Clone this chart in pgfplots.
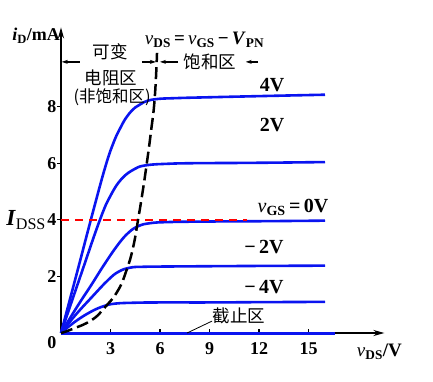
\documentclass[border=0pt]{standalone}
\usepackage{fontspec}
\setmainfont{Liberation Serif}
\newfontfamily\cjk{Noto Sans CJK SC}
\usepackage{pgfplots}
\pgfplotsset{compat=1.18}
\usetikzlibrary{arrows.meta}
\definecolor{cblue}{RGB}{10,20,240}
\newcommand{\sub}[1]{\textsubscript{\bfseries #1}}
\begin{document}
\begin{tikzpicture}
\useasboundingbox (-61pt,-48pt) rectangle (372pt,333pt);
\begin{axis}[at={(0pt,0pt)},anchor=south west,
  x=16.5pt,y=28.3pt,
  xmin=0,xmax=19.6,ymin=0,ymax=10.8,
  axis lines=left, clip=false,
  axis line style={line width=1.6pt,-{Stealth[length=11pt,width=6pt]}},
  xtick={3,6,9,12,15}, ytick={2,4,6,8},
  tick style={line width=1.2pt,black},
  major tick length=4pt,
  tick align=inside,
  ytick style={xshift=-4pt},
  /pgf/number format/assume math mode=true,
  tick label style={font=\bfseries\fontsize{18}{18}\selectfont},
  xticklabel style={yshift=-6pt},
  yticklabel style={xshift=-1pt},
  ]
% curves
\addplot[cblue,line width=2.6pt,smooth,tension=0.7] coordinates {(0,0)(1.0,2.2)(1.9,4.2)(2.7,5.9)(3.2,6.75)(3.6,7.25)(4.0,7.65)(4.5,7.97)(5.0,8.15)(5.7,8.26)(7,8.3)(9,8.33)(12,8.37)(16,8.42)};
\addplot[cblue,line width=2.6pt,smooth,tension=0.7] coordinates {(0,0)(1.2,2.05)(2.36,4.0)(3.0,4.85)(3.68,5.45)(4.48,5.8)(5.2,5.93)(6.5,5.98)(8,6.0)(11,6.01)(13,6.02)(16,6.04)};
\addplot[cblue,line width=2.6pt,smooth,tension=0.7] coordinates {(0,0)(1.0,0.95)(1.84,1.7)(2.6,2.4)(3.45,3.12)(4.1,3.55)(4.7,3.78)(5.4,3.88)(6.5,3.92)(9,3.94)(12,3.95)(16,3.97)};
\addplot[cblue,line width=2.6pt,smooth,tension=0.7] coordinates {(0,0)(0.9,0.65)(1.84,1.25)(2.85,1.87)(3.5,2.17)(4.2,2.31)(5,2.34)(6.5,2.35)(9,2.36)(12,2.37)(16,2.38)};
\addplot[cblue,line width=2.6pt,smooth,tension=0.7] coordinates {(0,0)(0.9,0.42)(1.84,0.76)(2.6,0.95)(3.3,1.04)(4.5,1.07)(6,1.08)(9,1.08)(12,1.09)(16,1.1)};
\addplot[cblue,line width=3pt] coordinates {(0,0)(16.6,0)};
% I_DSS line
\addplot[red,line width=2pt,dash pattern=on 8pt off 6pt] coordinates {(0,4.0)(11.3,4.0)};
% pinch-off boundary
\addplot[black,line width=2.5pt,dash pattern=on 12pt off 5pt,smooth,tension=0.8] coordinates {(0,0)(0.6,0.12)(1.84,0.45)(2.65,0.9)(3.45,1.5)(3.96,2.2)(4.36,3.0)(4.67,4.0)(4.95,5.0)(5.2,6.0)(5.45,7.1)(5.68,8.3)(5.82,9.9)};
% labels
\node[anchor=east,inner sep=0pt,font=\bfseries\fontsize{18}{18}\selectfont] at (axis cs:-0.05,10.5) {\textit{i}\sub{D}/mA};
\node[inner sep=0pt,font=\bfseries\fontsize{19}{19}\selectfont] at (axis cs:8.7,10.35) {\textit{\mdseries v}\sub{DS}\,=\,\textit{\mdseries v}\sub{GS}\,\textminus\,\textit{V}\sub{PN}};
\node[inner sep=0pt,font=\cjk\fontsize{17.5}{17.5}\selectfont] at (axis cs:2.97,9.93) {可变};
\node[inner sep=0pt,font=\cjk\fontsize{17.5}{17.5}\selectfont] at (axis cs:3.03,9.01) {电阻区};
\node[inner sep=0pt,font=\cjk\fontsize{16.5}{16.5}\selectfont] at (axis cs:3.1,8.34) {(非饱和区)};
\node[inner sep=0pt,font=\cjk\fontsize{17.5}{17.5}\selectfont] at (axis cs:9.03,9.58) {饱和区};
\draw[line width=1.3pt,-{Stealth[length=6pt,width=4pt]}] (axis cs:1.15,9.58) -- (axis cs:0.05,9.58);
\draw[line width=1.3pt,-{Stealth[length=6pt,width=4pt]}] (axis cs:4.9,9.58) -- (axis cs:5.75,9.58);
\draw[line width=1.3pt,-{Stealth[length=6pt,width=4pt]}] (axis cs:7.1,9.58) -- (axis cs:6.0,9.58);
\draw[line width=1.3pt,-{Stealth[length=6pt,width=4pt]}] (axis cs:11.95,9.58) -- (axis cs:11.2,9.58);
\node[inner sep=0pt,font=\bfseries\fontsize{20}{20}\selectfont] at (axis cs:12.8,8.76) {4V};
\node[inner sep=0pt,font=\bfseries\fontsize{20}{20}\selectfont] at (axis cs:12.8,7.35) {2V};
\node[inner sep=0pt,font=\bfseries\fontsize{20}{20}\selectfont] at (axis cs:14.06,4.45) {\textit{\mdseries v}\sub{GS}\,=\,0V};
\node[inner sep=0pt,font=\bfseries\fontsize{20}{20}\selectfont] at (axis cs:12.3,3.04) {\textminus\,2V};
\node[inner sep=0pt,font=\bfseries\fontsize{20}{20}\selectfont] at (axis cs:12.3,1.63) {\textminus\,4V};
\node[inner sep=0pt,font=\cjk\fontsize{17.5}{17.5}\selectfont] at (axis cs:10.8,0.6) {截止区};
\draw[line width=0.8pt] (axis cs:7.64,0) -- (axis cs:9.15,0.42);
\node[inner sep=0pt,font=\bfseries\fontsize{19}{19}\selectfont] at (axis cs:19.3,-0.67) {\textit{\mdseries v}\sub{DS}/V};
\node[inner sep=0pt,font=\bfseries\fontsize{18}{18}\selectfont] at (axis cs:-0.55,-0.35) {0};
\node[anchor=east,inner sep=0pt,font=\fontsize{23}{23}\selectfont] at (axis cs:-0.9,4.0) {\textbf{\textit{I}}\textsubscript{DSS}};
\end{axis}
\end{tikzpicture}
\end{document}
